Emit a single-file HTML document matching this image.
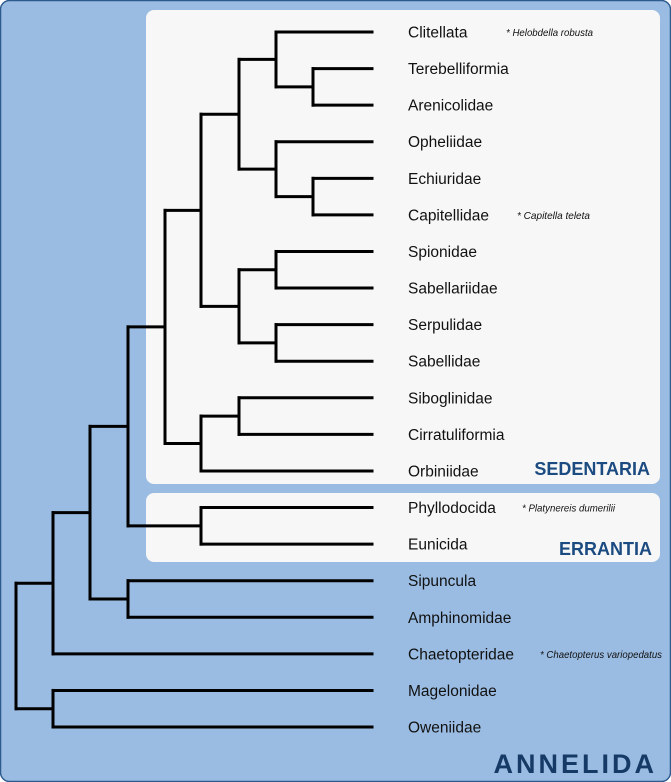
<!DOCTYPE html>
<html><head><meta charset="utf-8"><style>
html,body{margin:0;padding:0;background:#fff;}
svg{display:block;}
text{font-family:"Liberation Sans",sans-serif;}
</style></head><body>
<svg id="chart" width="671" height="782" viewBox="0 0 671 782">
<rect x="0.5" y="0.5" width="670" height="781" rx="9" fill="#9abce2" stroke="#2d5b8e" stroke-width="1.5"/>
<rect x="146" y="10" width="514" height="474" rx="8" fill="#f7f7f7"/>
<rect x="146" y="493" width="514" height="69" rx="8" fill="#f7f7f7"/>
<g id="tree"></g>
<g id="labels"></g>
<text x="650" y="475" text-anchor="end" font-size="18" font-weight="bold" fill="#1b4b80">SEDENTARIA</text>
<text x="652" y="555" text-anchor="end" font-size="18" font-weight="bold" fill="#1b4b80">ERRANTIA</text>
<text x="657" y="773" text-anchor="end" font-size="27" font-weight="bold" letter-spacing="3" fill="#163a66">ANNELIDA</text>
</svg>
<script>
const taxa = ["Clitellata","Terebelliformia","Arenicolidae","Opheliidae","Echiuridae","Capitellidae","Spionidae","Sabellariidae","Serpulidae","Sabellidae","Siboglinidae","Cirratuliformia","Orbiniidae","Phyllodocida","Eunicida","Sipuncula","Amphinomidae","Chaetopteridae","Magelonidae","Oweniidae"];
const annotations = {"Clitellata":"* Helobdella robusta","Capitellidae":"* Capitella teleta","Phyllodocida":"* Platynereis dumerilii","Chaetopteridae":"* Chaetopterus variopedatus"};
const annotationX = {"Clitellata":506,"Capitellidae":517,"Phyllodocida":522,"Chaetopteridae":540};
const annotationW = {"Clitellata":87,"Capitellidae":73,"Phyllodocida":93,"Chaetopteridae":122};
// tree: [depth, children...]; leaves are taxon indices
const tree = [0,[1,[2,[3,[4,[5,[6,[7,0,[8,1,2]],[7,3,[8,4,5]]],[6,[7,6,7],[7,8,9]]],[5,[6,10,11],12]],[5,13,14]],[3,15,16]],17],[1,18,19]];
const depthX = [16,53,90,128,165,201,239,276,313];
const leafEnd = 372;
const rowTop = 32, rowStep = 36.58;
const ns = "http://www.w3.org/2000/svg";
const g = document.getElementById('tree'), lg = document.getElementById('labels');
function yOf(i){return rowTop + i*rowStep;}
function line(x1,y1,x2,y2,name){
  const l=document.createElementNS(ns,'line');
  l.setAttribute('x1',x1);l.setAttribute('y1',y1);l.setAttribute('x2',x2);l.setAttribute('y2',y2);
  l.setAttribute('stroke','#000');l.setAttribute('stroke-width','3');l.setAttribute('stroke-linecap','square');
  
  
  g.appendChild(l);
}
function draw(node){
  if(typeof node==='number'){return {y:yOf(node)};}
  const x=depthX[node[0]];
  const ys=[];
  for(let k=1;k<node.length;k++){
    const c=node[k];
    const r=draw(c);
    const endX = (typeof c==='number')? leafEnd : depthX[c[0]];
    line(x,r.y,endX,r.y,'branch');
    ys.push(r.y);
  }
  line(x,Math.min(...ys),x,Math.max(...ys),'node-connector');
  return {y:(Math.min(...ys)+Math.max(...ys))/2};
}
draw(tree);
taxa.forEach((t,i)=>{
  const tx=document.createElementNS(ns,'text');
  tx.setAttribute('x',408);tx.setAttribute('y',yOf(i)+5.5);
  tx.setAttribute('font-size','15.5');tx.setAttribute('fill','#111');
  tx.textContent=t;
  
  
  lg.appendChild(tx);
  if(annotations[t]){
    const a=document.createElementNS(ns,'text');
    a.setAttribute('x',annotationX[t]);a.setAttribute('y',yOf(i)+4);
    a.setAttribute('font-size','10.5');a.setAttribute('font-style','italic');a.setAttribute('fill','#111');
    a.setAttribute('textLength',annotationW[t]);a.setAttribute('lengthAdjust','spacingAndGlyphs');
    a.textContent=annotations[t];
    
    
    lg.appendChild(a);
  }
});
</script>
</body></html>
